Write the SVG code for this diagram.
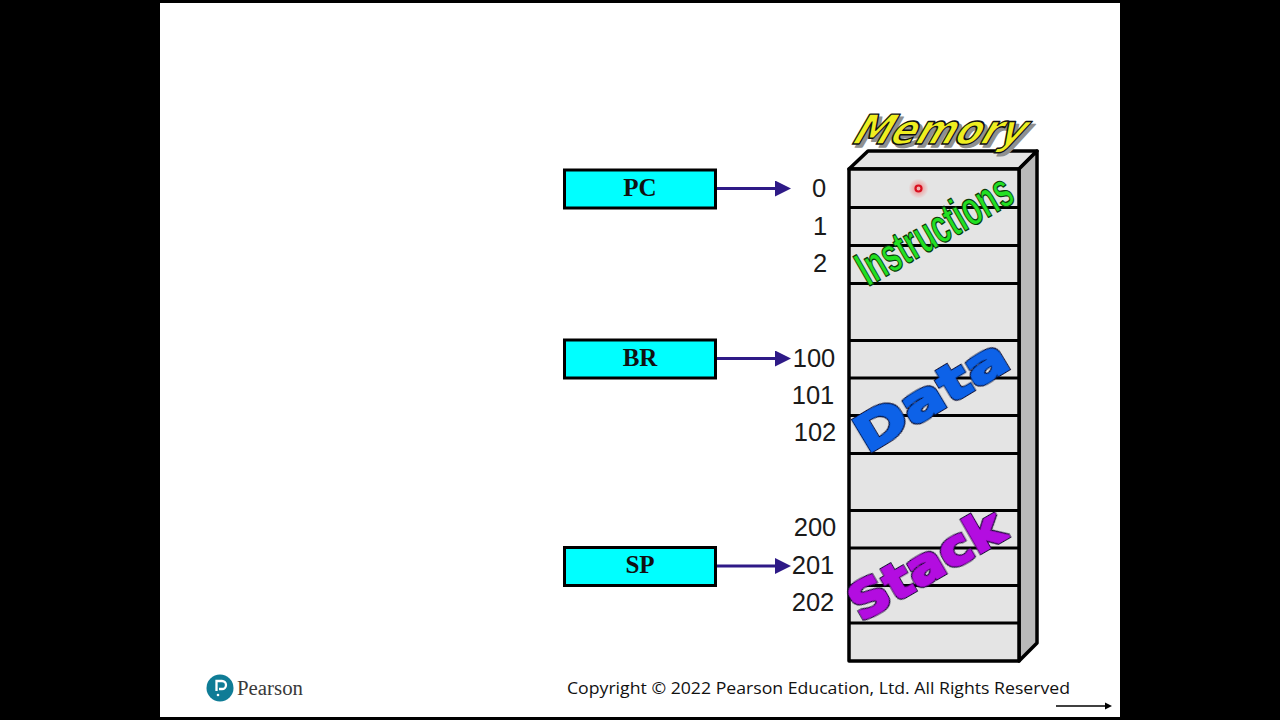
<svg xmlns="http://www.w3.org/2000/svg" width="1280" height="720" viewBox="0 0 1280 720">
<style>
.reg{fill:#00ffff;stroke:#000;stroke-width:3}
.regt{font-family:"Liberation Serif",serif;font-weight:bold;font-size:25px;fill:#111;text-anchor:middle}
.addr{font-family:"Liberation Sans",Arial,sans-serif;font-size:25.5px;fill:#1a1a1a;text-anchor:middle}
.shelf{stroke:#000;stroke-width:3;fill:none}
.conn{stroke:#2e1a87;stroke-width:3;fill:none}
.wa{font-family:"DejaVu Sans",sans-serif;font-weight:bold;stroke-linejoin:round}
</style>
<defs>
<marker id="ah" markerUnits="userSpaceOnUse" markerWidth="17" markerHeight="16" refX="3" refY="8" orient="auto"><path d="M0,0 L16,8 L0,16 Z" fill="#2e1a87"/></marker>
<radialGradient id="glow"><stop offset="0" stop-color="#ff3030" stop-opacity=".55"/><stop offset="1" stop-color="#ff3030" stop-opacity="0"/></radialGradient>
<filter id="heavy" x="-10%" y="-20%" width="120%" height="140%">
<feMorphology in="SourceGraphic" operator="dilate" radius="0.8" result="body"/>
<feMorphology in="SourceAlpha" operator="dilate" radius="1.600" result="edge"/>
<feFlood flood-color="#101030"/>
<feComposite in2="edge" operator="in" result="outline"/>
<feMerge><feMergeNode in="outline"/><feMergeNode in="body"/></feMerge>
</filter>
</defs>
<rect width="1280" height="720" fill="#000"/>
<rect x="160" y="3" width="960" height="714" fill="#fff"/>

<g id="memory" stroke-linejoin="round">
<path d="M849,169 L868,151 L1037,151 L1019,169 Z" fill="#e4e4e4" stroke="#000" stroke-width="3.500"/>
<path d="M1019,169 L1037,151 L1037,643 L1019,661 Z" fill="#b9b9b9" stroke="#000" stroke-width="3.500"/>
<rect x="849" y="169" width="170" height="492" fill="#e4e4e4" stroke="#000" stroke-width="3.500"/>
<path class="shelf" d="M849,207.500H1019M849,245.500H1019M849,283.500H1019M849,340.500H1019M849,378H1019M849,415.500H1019M849,453.500H1019M849,510.500H1019M849,548H1019M849,585.500H1019M849,623H1019"/>
</g>

<g id="addresses">
<text class="addr" x="819" y="197">0</text>
<text class="addr" x="820" y="235">1</text>
<text class="addr" x="820" y="272">2</text>
<text class="addr" x="814" y="367">100</text>
<text class="addr" x="813" y="404">101</text>
<text class="addr" x="815" y="441">102</text>
<text class="addr" x="815" y="536">200</text>
<text class="addr" x="813" y="574">201</text>
<text class="addr" x="813" y="611">202</text>
</g>

<g id="connectors">
<path class="conn" d="M717,188.500H778" marker-end="url(#ah)"/>
<path class="conn" d="M717,358.500H778" marker-end="url(#ah)"/>
<path class="conn" d="M717,566H778" marker-end="url(#ah)"/>
</g>

<g id="reg-pc"><rect class="reg" x="564.500" y="170" width="151" height="38"/><text class="regt" x="640" y="196">PC</text></g>
<g id="reg-br"><rect class="reg" x="564.500" y="340" width="151" height="38"/><text class="regt" x="640" y="366">BR</text></g>
<g id="reg-sp"><rect class="reg" x="564.500" y="547.500" width="151" height="38"/><text class="regt" x="640" y="573">SP</text></g>

<g id="title-memory">
<text class="wa" transform="translate(852,147) skewX(-30)" font-size="41" textLength="171" lengthAdjust="spacingAndGlyphs" fill="#8f8f8f" stroke="#8f8f8f" stroke-width="1.500">Memory</text>
<text class="wa" transform="translate(849,144) skewX(-30)" font-size="41" textLength="171" lengthAdjust="spacingAndGlyphs" fill="#eeee20" stroke="#111" stroke-width="1.500">Memory</text>
</g>
<g id="label-instructions">
<text transform="translate(868,287) rotate(-30)" font-family="Liberation Sans,Arial,sans-serif" font-weight="bold" font-size="49" textLength="172" lengthAdjust="spacingAndGlyphs" fill="#22e022" stroke="#0a3a0a" stroke-width="1.300" stroke-linejoin="round">Instructions</text>
</g>
<g id="label-data">
<text class="wa" transform="translate(867,454) rotate(-31)" font-size="50" textLength="170" lengthAdjust="spacingAndGlyphs" fill="#0b62e8" filter="url(#heavy)">Data</text>
</g>
<g id="label-stack">
<text class="wa" transform="translate(861,622) rotate(-30)" font-size="50" textLength="170" lengthAdjust="spacingAndGlyphs" fill="#b30fe0" filter="url(#heavy)">Stack</text>
</g>

<g id="pointer">
<circle cx="918.500" cy="188.500" r="10" fill="url(#glow)"/>
<circle cx="918.500" cy="188.500" r="3" fill="#f4b0b0" stroke="#d81020" stroke-width="2.200"/>
</g>

<g id="logo">
<circle cx="220" cy="688" r="13.500" fill="#0f7c96"/>
<path d="M216.500,691 V681 H222 A4,4 0 0 1 222,689 H219" fill="none" stroke="#fff" stroke-width="2.300"/>
<circle cx="218" cy="695" r="1.300" fill="#fff"/>
<text x="237" y="695" font-family="Liberation Serif,serif" font-size="20" fill="#3a3a3a" textLength="66" lengthAdjust="spacingAndGlyphs">Pearson</text>
</g>
<text x="567" y="694" font-family="Open Sans,DejaVu Sans,sans-serif" font-size="16.500" fill="#111" textLength="503" lengthAdjust="spacingAndGlyphs">Copyright © 2022 Pearson Education, Ltd. All Rights Reserved</text>
<g id="next-arrow">
<path d="M1056,706H1106" stroke="#000" stroke-width="1.500"/>
<path d="M1105,702.500L1112,706L1105,709.500Z" fill="#000"/>
</g>
</svg>
